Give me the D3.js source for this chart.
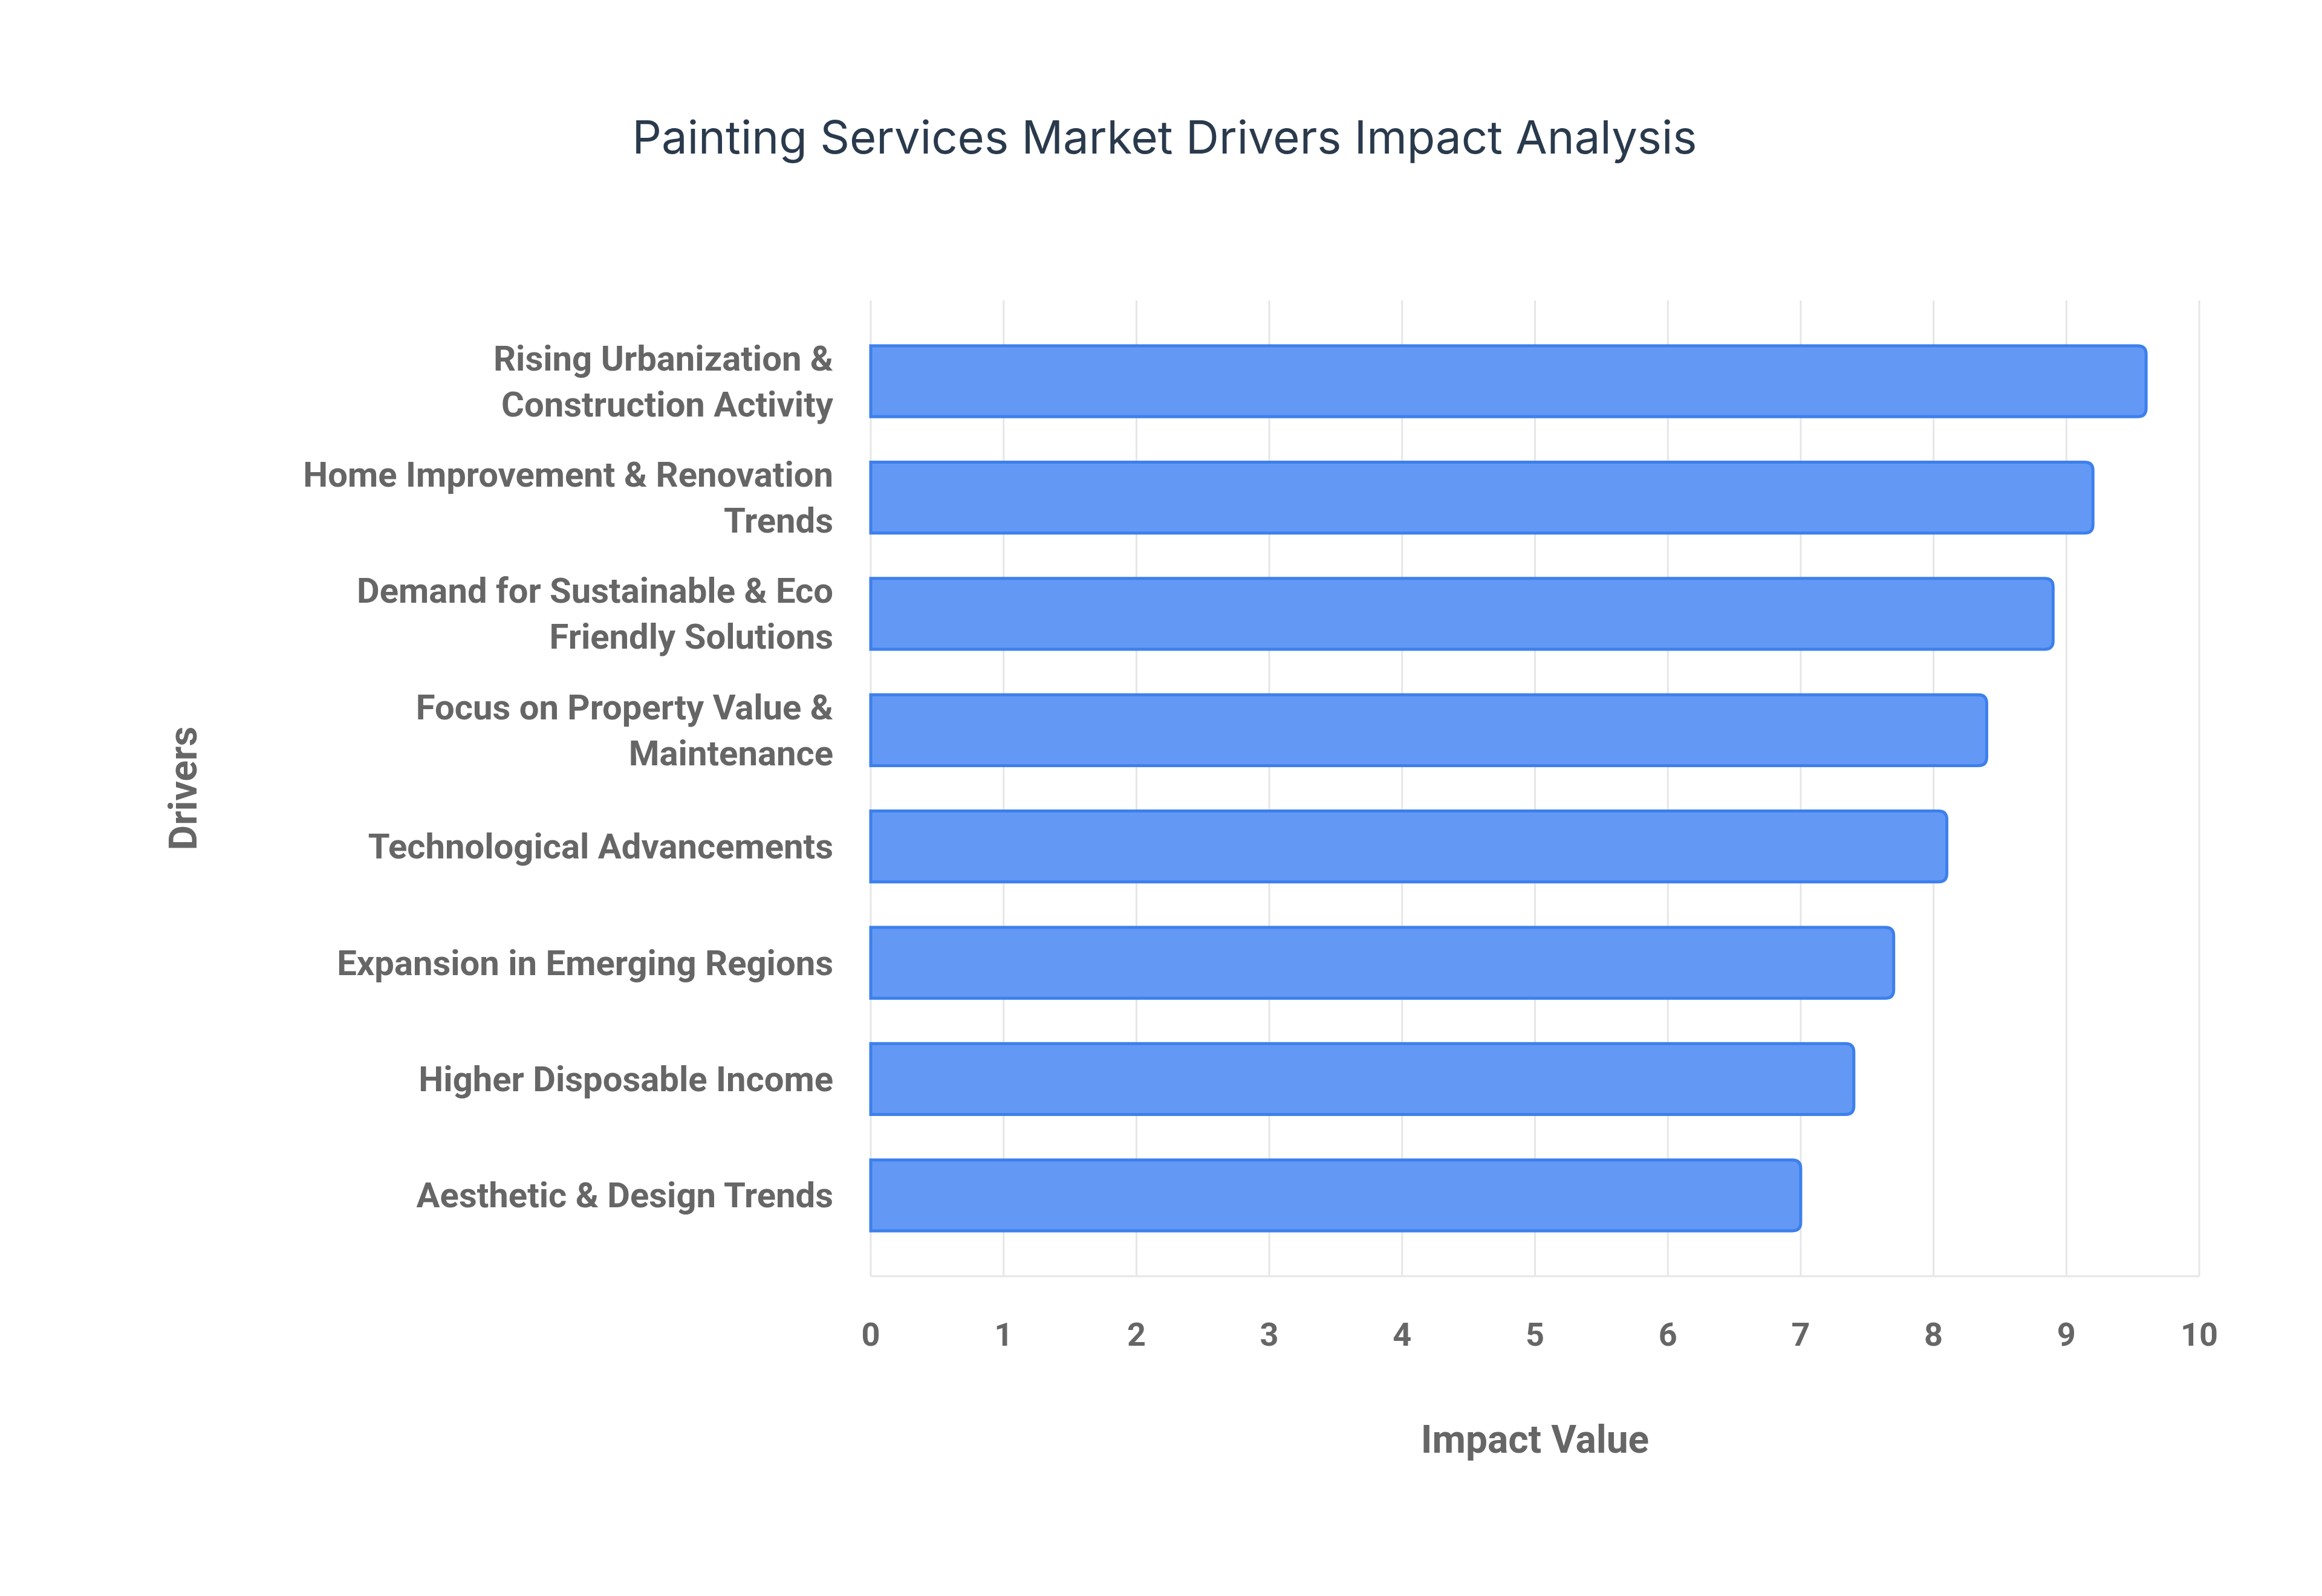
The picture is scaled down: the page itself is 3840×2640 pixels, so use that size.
<!DOCTYPE html>
<html lang="en">
<head>
  <meta charset="UTF-8">
  <title>Painting Services Market Drivers</title>
  <style>
    body { margin: 0; background: #fff; }
    svg text { font-family: Roboto, "Liberation Sans", sans-serif; }
  </style>
</head>
<body>
  <svg id="chart" width="3840" height="2640"></svg>
  <script src="https://cdn.jsdelivr.net/npm/d3@7"></script>
  <script>
    var drivers = [
      ["Rising Urbanization &", "Construction Activity"],
      ["Home Improvement & Renovation", "Trends"],
      ["Demand for Sustainable & Eco", "Friendly Solutions"],
      ["Focus on Property Value &", "Maintenance"],
      ["Technological Advancements"],
      ["Expansion in Emerging Regions"],
      ["Higher Disposable Income"],
      ["Aesthetic & Design Trends"]
    ];
    var impact = [9.6, 9.2, 8.9, 8.4, 8.1, 7.7, 7.4, 7.0];
    var xTicks = [0, 1, 2, 3, 4, 5, 6, 7, 8, 9, 10];

    var svg = d3.select("#chart");
    var plotLeft = 1440, plotRight = 3637, plotTop = 497, plotBottom = 2111;

    var x = d3.scaleLinear().domain([0, 10]).range([plotLeft, plotRight]);
    var y = d3.scaleBand().domain(d3.range(drivers.length)).range([plotTop, plotBottom]).padding(0.39);

    // grid
    svg.append("g").selectAll("line").data(xTicks).join("line")
      .attr("x1", d => x(d)).attr("x2", d => x(d))
      .attr("y1", plotTop).attr("y2", plotBottom)
      .attr("stroke", "#e6e6e6").attr("stroke-width", 3);
    svg.append("line").attr("x1", plotLeft).attr("x2", plotRight)
      .attr("y1", plotBottom).attr("y2", plotBottom)
      .attr("stroke", "#e6e6e6").attr("stroke-width", 3);

    // bars, rounded on the right only
    var r = 14;
    svg.append("g").selectAll("path").data(impact).join("path")
      .attr("d", function(d, i) {
        var x0 = x(0), x1 = x(d), y0 = y(i), h = y.bandwidth();
        return "M" + x0 + "," + y0 + "H" + (x1 - r) +
          "Q" + x1 + "," + y0 + " " + x1 + "," + (y0 + r) +
          "V" + (y0 + h - r) +
          "Q" + x1 + "," + (y0 + h) + " " + (x1 - r) + "," + (y0 + h) +
          "H" + x0 + "Z";
      })
      .attr("fill", "#6399f5").attr("stroke", "#3d80ec").attr("stroke-width", 5);

    // x tick labels
    svg.append("g").selectAll("text").data(xTicks).join("text")
      .attr("x", d => x(d)).attr("y", 2226)
      .attr("text-anchor", "middle")
      .attr("font-size", 54).attr("font-weight", "bold").attr("fill", "#666")
      .text(d => d);

    // category labels
    var lab = svg.append("g").selectAll("text").data(drivers).join("text")
      .attr("text-anchor", "end")
      .attr("font-size", 58).attr("font-weight", "bold").attr("fill", "#666");
    lab.each(function(lines, i) {
      var cy = y(i) + y.bandwidth() / 2;
      var lh = 76;
      var start = cy - (lines.length - 1) * lh / 2 + 20;
      d3.select(this).selectAll("tspan").data(lines).join("tspan")
        .attr("x", 1378).attr("y", (d, j) => start + j * lh)
        .text(d => d);
    });

    // titles
    svg.append("text").attr("x", 1926).attr("y", 254)
      .attr("text-anchor", "middle").attr("font-size", 76)
      .attr("fill", "#2a3a4d").style("font-family", "Inter, 'Noto Sans', sans-serif")
      .text("Painting Services Market Drivers Impact Analysis");
    svg.append("text").attr("x", x(5)).attr("y", 2403)
      .attr("text-anchor", "middle").attr("font-size", 64).attr("font-weight", "bold")
      .attr("fill", "#666").text("Impact Value");
    svg.append("text")
      .attr("transform", "translate(325," + ((plotTop + plotBottom) / 2) + ") rotate(-90)")
      .attr("text-anchor", "middle").attr("font-size", 64).attr("font-weight", "bold")
      .attr("fill", "#666").text("Drivers");
  </script>
</body>
</html>
